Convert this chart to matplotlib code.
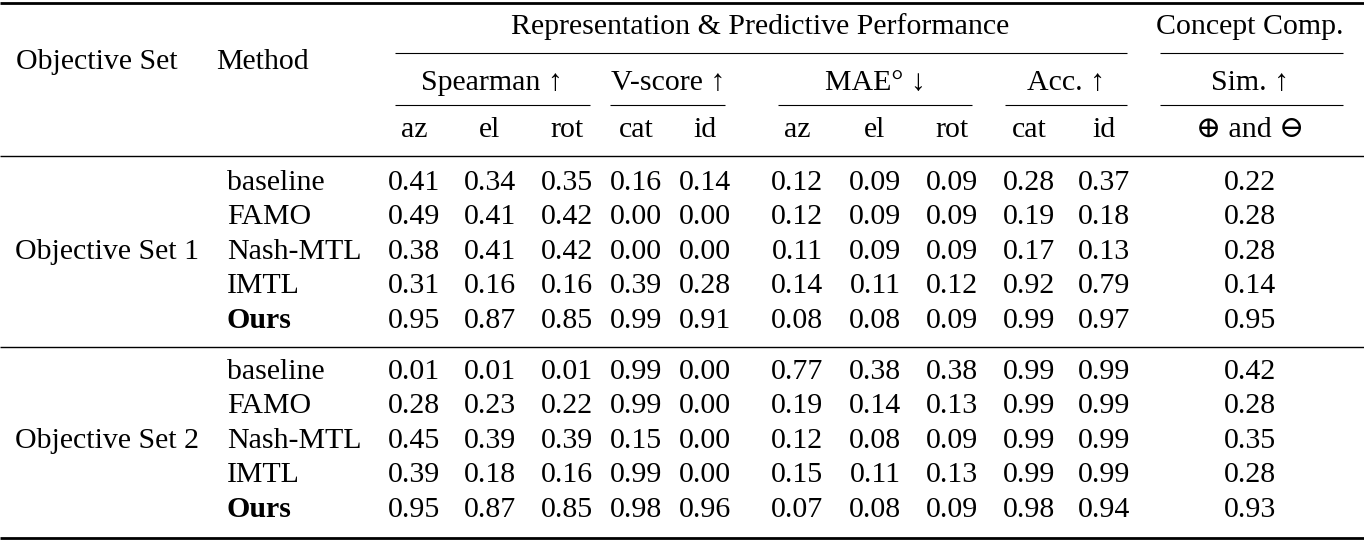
import matplotlib
matplotlib.use("Agg")
import matplotlib.pyplot as plt
plt.rcParams["font.family"] = ["Liberation Serif", "DejaVu Serif"]
plt.rcParams["mathtext.fontset"] = "stix"

methods = ["baseline", "FAMO", "Nash-MTL", "IMTL", "Ours"]
groups = ["Objective Set 1", "Objective Set 2"]
set1 = [
    [0.41, 0.34, 0.35, 0.16, 0.14, 0.12, 0.09, 0.09, 0.28, 0.37, 0.22],
    [0.49, 0.41, 0.42, 0.00, 0.00, 0.12, 0.09, 0.09, 0.19, 0.18, 0.28],
    [0.38, 0.41, 0.42, 0.00, 0.00, 0.11, 0.09, 0.09, 0.17, 0.13, 0.28],
    [0.31, 0.16, 0.16, 0.39, 0.28, 0.14, 0.11, 0.12, 0.92, 0.79, 0.14],
    [0.95, 0.87, 0.85, 0.99, 0.91, 0.08, 0.08, 0.09, 0.99, 0.97, 0.95],
]
set2 = [
    [0.01, 0.01, 0.01, 0.99, 0.00, 0.77, 0.38, 0.38, 0.99, 0.99, 0.42],
    [0.28, 0.23, 0.22, 0.99, 0.00, 0.19, 0.14, 0.13, 0.99, 0.99, 0.28],
    [0.45, 0.39, 0.39, 0.15, 0.00, 0.12, 0.08, 0.09, 0.99, 0.99, 0.35],
    [0.39, 0.18, 0.16, 0.99, 0.00, 0.15, 0.11, 0.13, 0.99, 0.99, 0.28],
    [0.95, 0.87, 0.85, 0.98, 0.96, 0.07, 0.08, 0.09, 0.98, 0.94, 0.93],
]
subcols = ["az", "el", "rot", "cat", "id", "az", "el", "rot", "cat", "id", "\u2295 and \u2296"]

W, H = 1364, 541
fig = plt.figure(figsize=(W/100, H/100), dpi=100)
ax = fig.add_axes([0, 0, 1, 1])
ax.set_xlim(0, W); ax.set_ylim(H, 0); ax.axis("off")
FS = 21.5
kw = dict(fontsize=FS, va="center")

def hline(y, x0, x1, lw):
    ax.plot([x0, x1], [y, y], color="black", lw=lw, solid_capstyle="butt")

hline(3, 0, 1364, 2.0)
hline(156, 0, 1364, 1.0)
hline(347, 0, 1364, 1.0)
hline(538, 0, 1364, 2.0)
hline(53, 395, 1127, 0.8); hline(53, 1160, 1343, 0.8)
for a, b in [(395, 590), (610, 725), (778, 972), (1005, 1127), (1160, 1343)]:
    hline(105, a, b, 0.8)

ax.text(97, 62, "Objective Set", ha="center", **kw)
ax.text(262, 62, "Method", ha="center", **kw)
ax.text(760, 27, "Representation & Predictive Performance", ha="center", **kw)
ax.text(1250, 27, "Concept Comp.", ha="center", **kw)
for t, x in [("Spearman \u2191", 492), ("V-score \u2191", 668), ("MAE\u00b0 \u2193", 875),
             ("Acc. \u2191", 1066), ("Sim. \u2191", 1250)]:
    ax.text(x, 83, t, ha="center", **kw)

xs = [414, 490, 567, 636, 705, 797, 875, 952, 1029, 1104, 1250]
for x, s in zip(xs, subcols):
    ax.text(x, 130, s, ha="center", **kw)

for g, (name, data, y0) in enumerate([(groups[0], set1, 183), (groups[1], set2, 372)]):
    step = 34.4
    ax.text(107, y0 + 2*step, name, ha="center", **kw)
    for i, (m, row) in enumerate(zip(methods, data)):
        y = y0 + i*step
        ax.text(227, y, m, ha="left", fontweight="bold" if m == "Ours" else "normal", **kw)
        for x, v in zip(xs, row):
            ax.text(x, y, f"{v:.2f}", ha="center", **kw)

fig.savefig("out.png", dpi=100)
